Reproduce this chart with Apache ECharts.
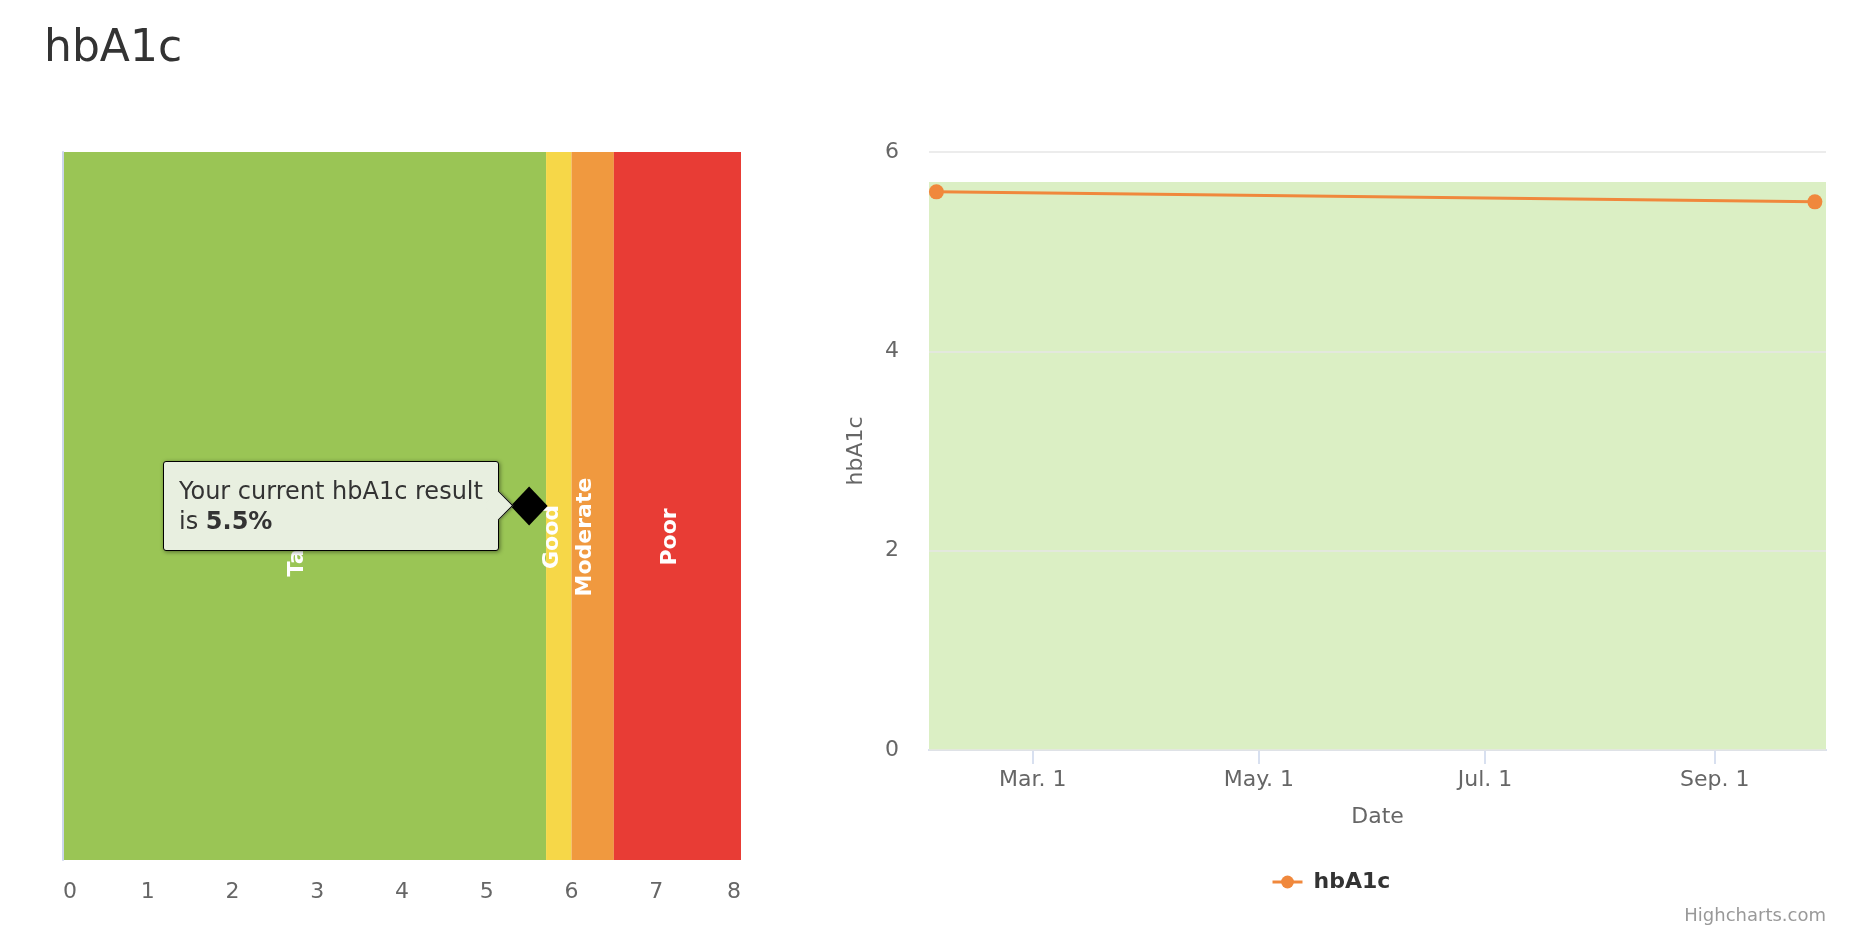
<!DOCTYPE html>
<html>
<head>
<meta charset="utf-8">
<script src="https://cdn.jsdelivr.net/npm/echarts@6/dist/echarts.min.js"></script>
<style>
  html, body { margin: 0; background: #fff; }
  #main { width: 1872px; height: 938px; }
</style>
</head>
<body>
<div id="main"></div>
<script>
// gauge bands (hbA1c %)
var bandNames = ['Target', 'Good', 'Moderate', 'Poor'];
var bandWidths = [5.7, 0.3, 0.5, 1.5];
var currentResult = 5.5;

// history
var resultDates = ['2015-02-03', '2015-09-28'];
var resultValues = [5.6, 5.5];
var targetRange = [0, 5.7];

// x axis ticks of the history chart
var tickDates = ['2015-03-01', '2015-05-01', '2015-07-01', '2015-09-01'];
var tickLabels = ['Mar. 1', 'May. 1', 'Jul. 1', 'Sep. 1'];

var bandColors = ['#9ac555', '#f6d748', '#f0993f', '#e83c35'];
var font = 'DejaVu Sans';
var tipBg = '#e8efe0';

var chartDom = document.getElementById('main');
var myChart = echarts.init(chartDom);
var option;

function toTime(d) { return Date.UTC(+d.slice(0, 4), +d.slice(5, 7) - 1, +d.slice(8, 10)); }
var tickTimes = tickDates.map(toTime);
var resultData = resultDates.map(function (d, i) { return [toTime(d), resultValues[i]]; });

var bandSeries = bandNames.map(function (name, i) {
    return {
        name: name,
        type: 'bar',
        stack: 'bands',
        xAxisIndex: 0,
        yAxisIndex: 0,
        barWidth: '100%',
        silent: true,
        tooltip: { show: false },
        itemStyle: { color: bandColors[i] },
        label: {
            show: true,
            position: 'inside',
            rotate: 90,
            // offset is in the rotated frame: [-31, -7] -> 31px down, 7px left
            offset: [-31, -7],
            formatter: name,
            color: '#fff',
            fontFamily: font,
            fontWeight: 'bold',
            fontSize: 22
        },
        data: [bandWidths[i]]
    };
});

// callout pointer drawn inside the tooltip box
var pointer = '<div style="position:absolute;top:50%;right:-11px;width:20px;height:20px;margin-top:-11px;' +
    'background:' + tipBg + ';border-top:1.5px solid #000;border-right:1.5px solid #000;' +
    'transform:rotate(45deg);box-shadow:2px -2px 3px -1px rgba(0,0,0,0.35)"></div>';

option = {
    animation: false,
    textStyle: { fontFamily: font },
    title: {
        text: 'hbA1c',
        left: 39,
        top: 23,
        textStyle: { fontFamily: font, fontSize: 44, fontWeight: 'normal', color: '#333' }
    },
    tooltip: {
        trigger: 'item',
        triggerOn: 'none',
        alwaysShowContent: true,
        transitionDuration: 0,
        position: function (point, params, dom, rect, size) {
            return [rect.x - size.contentSize[0] - 12, rect.y + rect.height / 2 - size.contentSize[1] / 2];
        },
        backgroundColor: tipBg,
        borderColor: '#000',
        borderWidth: 1.5,
        padding: [14, 15],
        textStyle: { fontFamily: font, fontSize: 24, color: '#333' },
        extraCssText: 'box-shadow: 1px 1px 4px rgba(0,0,0,0.45); border-radius: 3px; line-height: 30px;',
        formatter: function () {
            return 'Your current hbA1c result<br/>is <b>' + currentResult + '%</b>' + pointer;
        }
    },
    legend: {
        data: ['hbA1c'],
        left: 1266,
        top: 866,
        itemWidth: 30,
        itemHeight: 16,
        lineStyle: { width: 3 },
        textStyle: { fontFamily: font, fontSize: 22, fontWeight: 'bold', color: '#333', padding: [0, 0, 0, 6] }
    },
    graphic: [{
        type: 'text',
        right: 46,
        top: 907,
        style: { text: 'Highcharts.com', fill: '#999', font: '18px "DejaVu Sans"' }
    }],
    grid: [
        { left: 63, top: 152, width: 678, height: 708 },
        { left: 929, top: 152, width: 897, height: 598 }
    ],
    xAxis: [
        {
            gridIndex: 0,
            type: 'value',
            min: 0,
            max: 8,
            interval: 1,
            axisLine: { show: false },
            axisTick: { show: false },
            splitLine: { show: false },
            axisLabel: { color: '#666', fontSize: 22, margin: 21, alignMinLabel: 'left', alignMaxLabel: 'right' }
        },
        {
            gridIndex: 1,
            type: 'value',
            min: toTime('2015-02-01'),
            max: toTime('2015-10-01'),
            name: 'Date',
            nameLocation: 'middle',
            nameGap: 56,
            nameTextStyle: { color: '#666', fontSize: 22 },
            axisLine: { show: true, onZero: false, lineStyle: { color: '#ccd6eb', width: 2 } },
            axisTick: { show: true, customValues: tickTimes, length: 14, lineStyle: { color: '#ccd6eb', width: 1.5 } },
            splitLine: { show: false },
            axisLabel: {
                customValues: tickTimes,
                color: '#666',
                fontSize: 22,
                margin: 19,
                formatter: function (v) {
                    var i = tickTimes.indexOf(v);
                    return i >= 0 ? tickLabels[i] : '';
                }
            }
        }
    ],
    yAxis: [
        {
            gridIndex: 0,
            type: 'category',
            data: ['result'],
            z: 5,
            axisLine: { show: true, lineStyle: { color: '#ccd6eb', width: 2 } },
            axisTick: { show: false },
            axisLabel: { show: false },
            splitLine: { show: false }
        },
        {
            gridIndex: 1,
            type: 'value',
            min: 0,
            max: 6,
            interval: 2,
            z: 3,
            name: 'hbA1c',
            nameLocation: 'middle',
            nameRotate: 90,
            nameGap: 62,
            nameTextStyle: { color: '#666', fontSize: 22 },
            axisLine: { show: false },
            axisTick: { show: false },
            splitLine: { lineStyle: { color: '#e6e6e6', width: 1.5 } },
            axisLabel: { color: '#666', fontSize: 22, margin: 30, padding: [5, 0, 0, 0] }
        }
    ],
    series: bandSeries.concat([
        {
            name: 'current',
            type: 'scatter',
            xAxisIndex: 0,
            yAxisIndex: 0,
            symbol: 'diamond',
            symbolSize: [37, 39],
            z: 10,
            itemStyle: { color: '#000', opacity: 1 },
            data: [[currentResult, 0]]
        },
        {
            // target range band behind the history line
            name: 'target',
            type: 'line',
            xAxisIndex: 1,
            yAxisIndex: 1,
            z: 1,
            silent: true,
            tooltip: { show: false },
            markArea: {
                silent: true,
                itemStyle: { color: '#dbefc4', opacity: 1 },
                data: [[{ yAxis: targetRange[0] }, { yAxis: targetRange[1] }]]
            },
            data: []
        },
        {
            name: 'hbA1c',
            type: 'line',
            xAxisIndex: 1,
            yAxisIndex: 1,
            z: 4,
            symbol: 'circle',
            symbolSize: 15,
            color: '#f0883c',
            lineStyle: { width: 3 },
            itemStyle: { opacity: 1 },
            tooltip: { show: false },
            data: resultData
        }
    ])
};

option && myChart.setOption(option);
myChart.dispatchAction({ type: 'showTip', seriesIndex: bandNames.length, dataIndex: 0 });
</script>
</body>
</html>
